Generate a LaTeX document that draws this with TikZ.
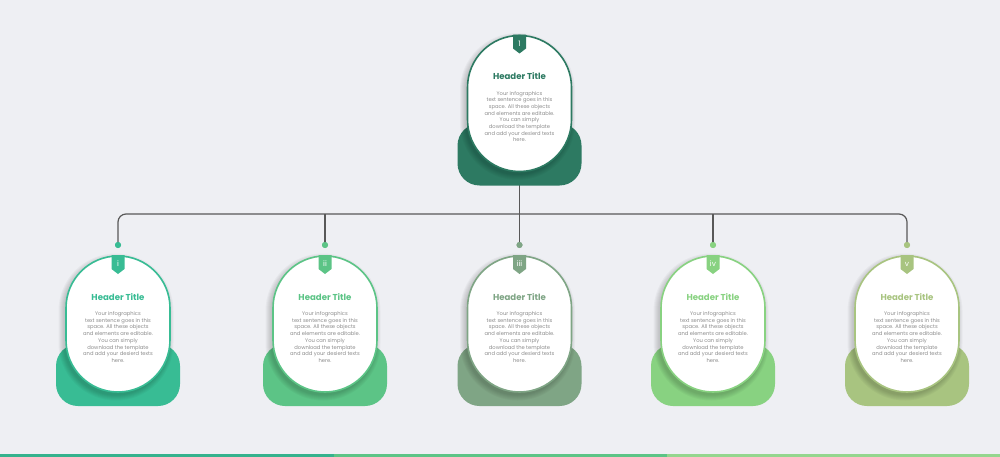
\documentclass[tikz,border=0pt]{standalone}
\usepackage{fontspec}
\setmainfont{Poppins}
\definecolor{bg}{HTML}{EEEFF3}
\definecolor{cA}{HTML}{2D7A62}
\definecolor{cB}{HTML}{38BC94}
\definecolor{cC}{HTML}{5CC486}
\definecolor{cD}{HTML}{7FA585}
\definecolor{cE}{HTML}{88D281}
\definecolor{cF}{HTML}{A8C480}
\definecolor{txt}{HTML}{8C8C8C}
\definecolor{conncol}{HTML}{585858}
\tikzset{
  blobst/.style={fill=#1, draw=none, rounded corners=22pt, minimum width=124pt, minimum height=62pt, inner sep=0pt},
  cardst/.style={draw=#1, line width=1.6pt, fill=white, minimum width=104pt, minimum height=136pt, inner sep=0pt,
     rounded corners=51.9pt},
  shadowst/.style={fill=black, fill opacity=0.03, draw=none},
  tabtxt/.style={text=white, font=\fontsize{7.5}{7.5}\selectfont, inner sep=0pt},
  titlest/.style={font=\fontsize{8.6}{9}\bfseries\selectfont, inner sep=0pt},
  bodyst/.style={text=txt, align=center, font=\fontsize{5.2}{6.7}\selectfont, inner sep=0pt},
  dotst/.style={circle, fill=#1, minimum size=6pt, inner sep=0pt},
  connst/.style={draw=conncol, line width=1.2pt},
}
\newcommand\mycard[5]{%
  \node[blobst=#3] (blob#5) at (#1,#2+51) {};
  \foreach \s in {0.5,1.5,2.5,3.5,4.5,5.5}{%
    \pgfmathsetmacro\rr{51.9+\s}%
    \fill[shadowst, rounded corners=\rr pt] (#1-52-\s-2,#2-68-\s+3) rectangle (#1+52+\s-2,#2+68+\s+3);
  }
  \node[cardst=#3] (card#5) at (#1,#2) {};
  \fill[#3] (#1-6.5,#2-68.8) -- (#1+6.5,#2-68.8) -- (#1+6.5,#2-55) -- (#1,#2-50) -- (#1-6.5,#2-55) -- cycle;
  \node[tabtxt] (tab#5) at (#1,#2-60) {#4};
  \node[titlest,text=#3] (title#5) at (#1,#2-27) {Header Title};
  \node[bodyst] (body#5) at (#1,#2+13) {Your infographics\\text sentence goes in this\\space. All these objects\\and elements are editable.\\You can simply\\download the template\\and add your desierd texts\\here.};
}
\begin{document}
\begin{tikzpicture}[x=1pt,y=-1pt]
  \fill[bg] (0,0) rectangle (1000,457);
  \useasboundingbox (0,0) rectangle (1000,457);
  % bottom bar
  \fill[cB!95!black] (0,454) rectangle (334,457);
  \fill[cC] (334,454) rectangle (667,457);
  \fill[cE!90!white] (667,454) rectangle (1000,457);
  % connectors
  \coordinate (hub) at (519.5,214);
  \node[dotst=cB] (d1) at (118,245) {};
  \node[dotst=cC] (d2) at (325,245) {};
  \node[dotst=cD] (d3) at (519.5,245) {};
  \node[dotst=cE] (d4) at (713,245) {};
  \node[dotst=cF] (d5) at (907,245) {};
  \draw[connst, rounded corners=8pt] (d1.center) |- (hub) -| (d5.center);
  \draw[connst] (d2.center) -- (d2.center |- hub);
  \draw[connst] (d3.center) -- (hub);
  \draw[connst] (d4.center) -- (d4.center |- hub);
  \draw[connst] (hub) -- (519.5,180);
  \node[dotst=cB] at (d1) {};
  \node[dotst=cC] at (d2) {};
  \node[dotst=cD] at (d3) {};
  \node[dotst=cE] at (d4) {};
  \node[dotst=cF] at (d5) {};
  % cards
  \mycard{519.5}{103.5}{cA}{1}{0}
  \mycard{118}{324}{cB}{i}{1}
  \mycard{325}{324}{cC}{ii}{2}
  \mycard{519.5}{324}{cD}{iii}{3}
  \mycard{713}{324}{cE}{iv}{4}
  \mycard{907}{324}{cF}{v}{5}
\end{tikzpicture}
\end{document}
